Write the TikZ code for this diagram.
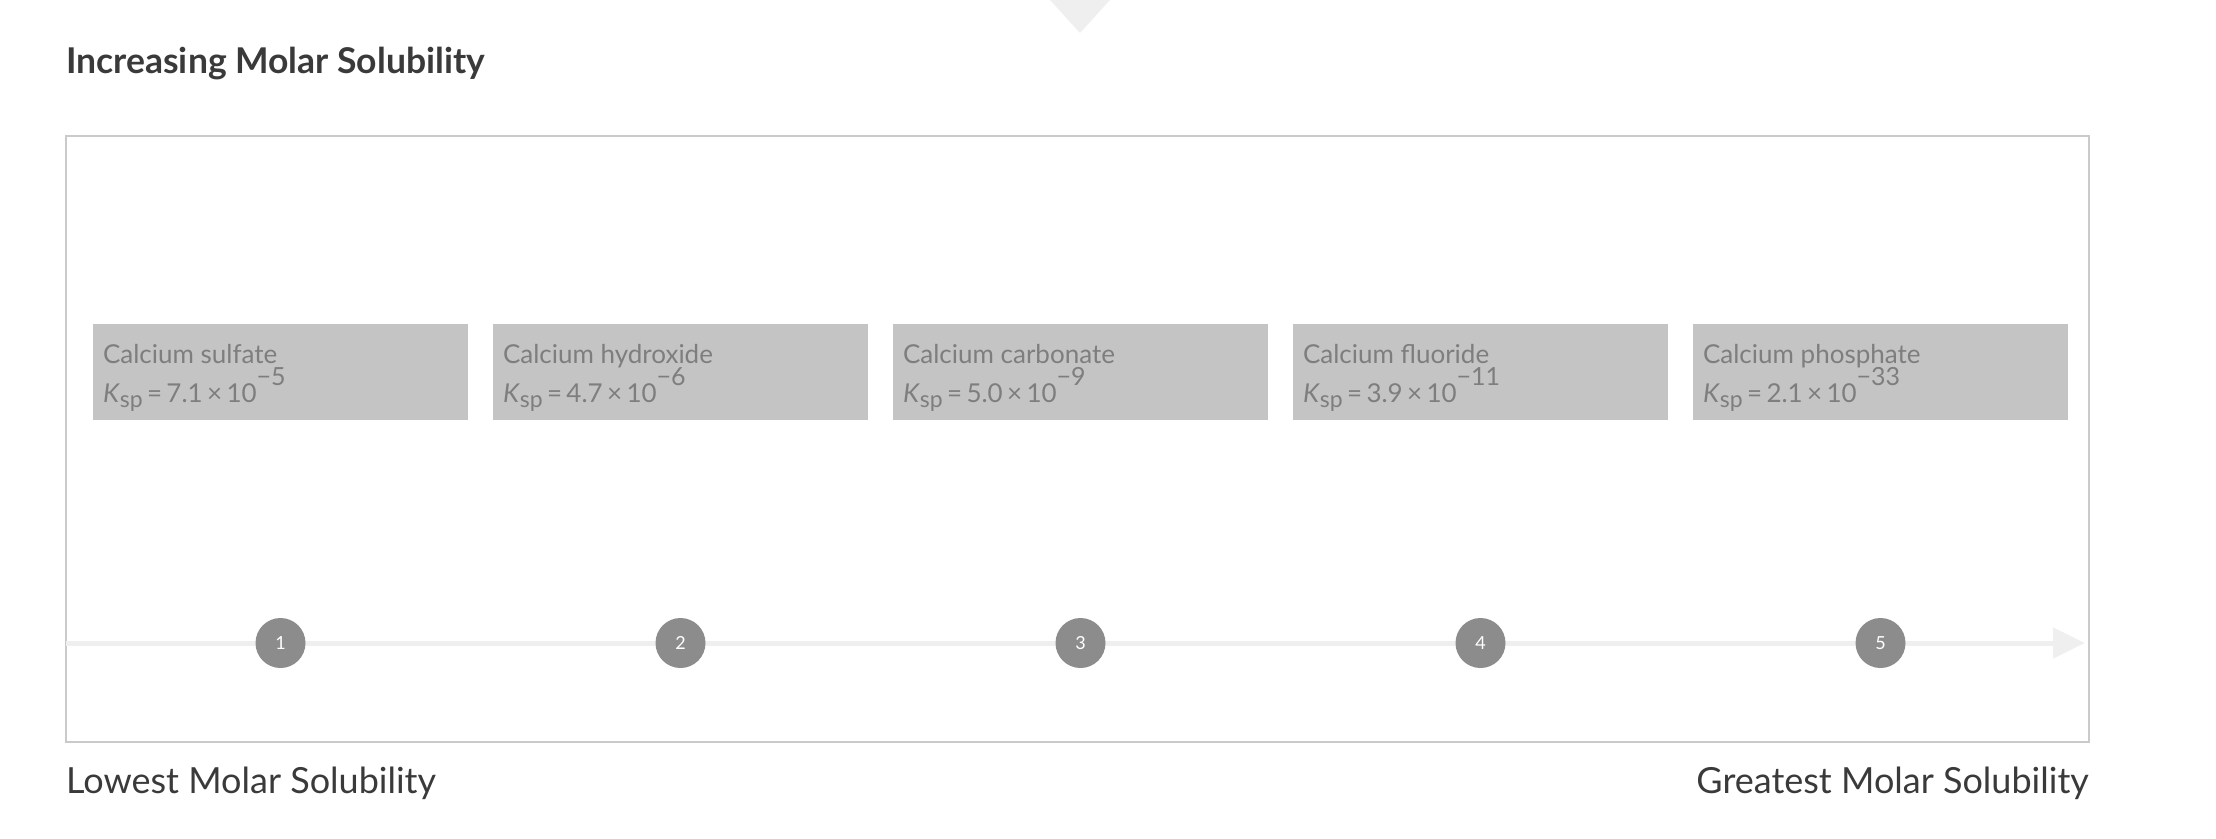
\documentclass[tikz,border=0pt]{standalone}
\usepackage{fontspec}
\setmainfont{Lato}
\usetikzlibrary{arrows.meta}

\definecolor{inkdark}{HTML}{3A3A3A}
\definecolor{framegray}{HTML}{CACACA}
\definecolor{boxgray}{HTML}{C4C4C4}
\definecolor{boxtext}{HTML}{7E7E7E}
\definecolor{badgegray}{HTML}{8C8C8C}
\definecolor{railgray}{HTML}{EFEFEF}

\newcommand{\kspsub}[1]{\raisebox{-0.2em}{\fontsize{23}{23}\selectfont #1}}
\newcommand{\kspsup}[1]{\raisebox{0.62em}{\fontsize{25}{25}\selectfont #1}}

\begin{document}
\begin{tikzpicture}[x=1pt,y=-1pt,
  salt/.style={fill=boxgray,minimum width=375pt,minimum height=96pt,inner sep=0pt},
  saltline/.style={text=boxtext,inner sep=0pt,anchor=base west,
    font=\fontsize{26}{30}\selectfont},
  badge/.style={circle,fill=badgegray,text=white,minimum size=50pt,inner sep=0pt,
    font=\fontsize{18}{18}\selectfont},
  caption/.style={text=inkdark,inner sep=0pt,font=\fontsize{36}{40}\selectfont}]
  \useasboundingbox (0,0) rectangle (2216,838);

  % pointer at the top edge
  \fill[railgray] (1050,0) -- (1080,33) -- (1110,0) -- cycle;
  \node[caption,anchor=base west,font=\bfseries\fontsize{35.5}{40}\selectfont]
    (title) at (66,73) {Increasing Molar Solubility};

  \draw[framegray,line width=2pt] (66,136) rectangle (2089,742);
  \coordinate (tail) at (66,643);
  \coordinate (head) at (2085,643);
  \draw[railgray,line width=5pt,-{Triangle[length=32pt,width=30pt]}] (tail) -- (head);

  \foreach \i/\salt/\mant/\expo in {1/sulfate/7.1/5,2/hydroxide/4.7/6,
      3/carbonate/5.0/9,4/fluoride/3.9/11,5/phosphate/2.1/33} {
    \node[salt] (s\i) at ({280.5+400*(\i-1)},372) {};
    \node[saltline] (c\i) at ([shift={(10,-9)}]s\i.west) {Calcium \salt};
    \node[saltline] (k\i) at ([shift={(10,30)}]s\i.west)
      {\textit{K}\kspsub{sp}\,=\,\mant\,×\,10\kspsup{−\expo}};
    \node[badge] (n\i) at (s\i |- tail) {\i};
  }

  \node[caption,anchor=base west] (low) at (66,793) {Lowest Molar Solubility};
  \node[caption,anchor=base east] (high) at (2089,793) {Greatest Molar Solubility};
\end{tikzpicture}
\end{document}
